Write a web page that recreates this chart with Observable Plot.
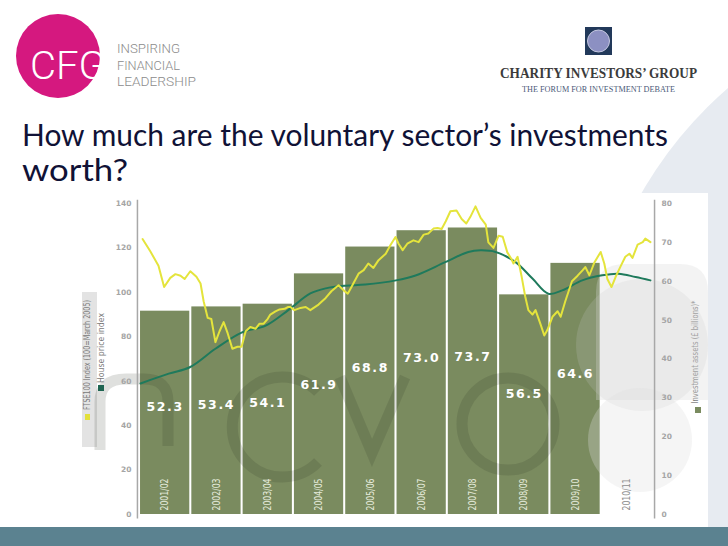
<!DOCTYPE html>
<html><head><meta charset="utf-8">
<script src="https://cdn.jsdelivr.net/npm/d3@7"></script>
<script src="https://cdn.jsdelivr.net/npm/@observablehq/plot@0.6"></script>
<style>
html,body{margin:0;padding:0;background:#fff;}
#page{position:relative;width:728px;height:546px;overflow:hidden;background:#fff;}
#bg{position:absolute;left:0;top:0;}
#chart{position:absolute;left:0;top:190px;}
.narrow{font-family:'Liberation Sans Narrow','DejaVu Sans Condensed','Roboto',sans-serif;}
</style></head><body>
<div id="page">
<svg id="bg" width="728" height="546" xmlns="http://www.w3.org/2000/svg">
  <rect width="728" height="546" fill="#fff"/>
  <circle cx="1000" cy="400" r="414" fill="#e7ebf1"/>
  <rect x="40" y="193" width="668" height="334" fill="#fff"/>
  <rect x="0" y="527" width="728" height="19" fill="#5b8290"/>
  <!-- CFG logo -->
  <circle cx="58" cy="56" r="42" fill="#d5187f"/>
  <text x="30" y="79" font-family="Roboto" font-weight="300" font-size="38" fill="#fff" textLength="76" lengthAdjust="spacingAndGlyphs">CFG</text>
  <g font-family="Roboto" font-weight="300" font-size="13.5" fill="#8c8c8c">
    <text x="117" y="53" textLength="63" lengthAdjust="spacingAndGlyphs">INSPIRING</text>
    <text x="117" y="69.5" textLength="63" lengthAdjust="spacingAndGlyphs">FINANCIAL</text>
    <text x="117" y="86" textLength="79" lengthAdjust="spacingAndGlyphs">LEADERSHIP</text>
  </g>
  <!-- Charity Investors' Group logo -->
  <rect x="585" y="27" width="27" height="28" fill="#22395a"/>
  <circle cx="598.5" cy="41" r="11" fill="#8c90c2" stroke="#c5c8e0" stroke-width="1"/>
  <text x="500" y="78" font-family="'Liberation Serif',serif" font-weight="bold" font-size="14" fill="#3b3b3b" textLength="197" lengthAdjust="spacingAndGlyphs">CHARITY INVESTORS’ GROUP</text>
  <text x="522" y="92" font-family="'Liberation Serif',serif" font-size="7.5" fill="#4b5978" textLength="153" lengthAdjust="spacingAndGlyphs">THE FORUM FOR INVESTMENT DEBATE</text>
  <!-- Title -->
  <g font-family="Lato" font-size="31" fill="#101236">
    <text x="22" y="146" textLength="646" lengthAdjust="spacingAndGlyphs">How much are the voluntary sector’s investments</text>
    <text x="22" y="181" textLength="106" lengthAdjust="spacingAndGlyphs">worth?</text>
  </g>
  <!-- Left legend -->
  <rect x="82" y="292" width="15" height="155" fill="#e3e3e3"/>
  <g class="narrow" font-size="8" fill="#7a7a7a" text-anchor="middle">
    <text transform="translate(89.5,355) rotate(-90)" textLength="110" lengthAdjust="spacingAndGlyphs">FTSE100 Index (100=March 2005)</text>
    <text transform="translate(104,348) rotate(-90)" textLength="70" lengthAdjust="spacingAndGlyphs">House price index</text>
    <text transform="translate(697.5,352) rotate(-90)" textLength="103" lengthAdjust="spacingAndGlyphs">Investment assets (£ billions)*</text>
  </g>
  <rect x="85" y="414" width="5" height="6" fill="#e3e03a"/>
  <rect x="98" y="385" width="6" height="6" fill="#1d6e5a"/>
  <rect x="695" y="407" width="6" height="6" fill="#7a8b5f"/>
</svg>
<div id="chart"></div>
</div>
<script>
// ---- Data ----
const years = ["2001/02","2002/03","2003/04","2004/05","2005/06","2006/07","2007/08","2008/09","2009/10","2010/11"];
const assets = [52.3, 53.4, 54.1, 61.9, 68.8, 73.0, 73.7, 56.5, 64.6]; // £ billions
// time in years since April 2001 (start of 2001/02)
const housePriceT = [0.02,0.57,0.99,1.48,2.0,2.46,2.9,3.33,3.63,4.02,4.4,5.0,5.38,5.96,6.41,6.65,6.94,7.33,7.66,7.97,8.24,8.63,9.02,9.34,9.67,9.96];
const housePrice = [59,63.4,66.4,74.6,82,85,92,99.5,101.8,103,103.5,105.4,107.6,113.6,118.2,118.9,118.2,113.6,106.2,99.4,100.9,105.4,107.7,108.4,106.9,105.4];
const ftseT = [0.06,0.21,0.37,0.48,0.60,0.70,0.80,0.88,0.99,1.11,
  1.19,1.25,1.33,1.40,1.48,1.56,1.64,1.72,1.81,1.91,
  1.99,2.07,2.16,2.26,2.34,2.42,2.50,2.55,2.65,2.73,
  2.83,2.89,2.94,3.02,3.14,3.24,3.33,3.49,3.63,3.74,
  3.88,3.98,4.06,4.15,4.27,4.37,4.46,4.56,4.66,4.80,
  4.89,4.99,5.05,5.13,5.22,5.34,5.44,5.54,5.63,5.73,
  5.81,5.89,5.97,6.06,6.18,6.28,6.37,6.45,6.55,6.65,
  6.75,6.80,6.90,7.00,7.08,7.17,7.25,7.29,7.37,7.45,
  7.52,7.58,7.66,7.72,7.82,7.89,7.95,8.05,8.15,8.21,
  8.30,8.43,8.54,8.64,8.69,8.77,8.87,8.99,9.06,9.12,
  9.20,9.28,9.38,9.47,9.55,9.61,9.71,9.81,9.86,9.96];
const ftse = [124,118.5,112,102.4,106.5,108.2,107.5,106,109.5,107,
  104,96,88.5,88,77.6,82.5,86.6,81.5,74.6,75.5,
  75.5,82.5,84.4,83.6,85.9,85.9,88.1,90,91.4,92.3,
  92.6,93.4,93.4,92,93,93.4,92,94.5,97.5,100.5,
  103.2,100.9,99.4,103.2,108.4,110,113,111,114.5,117.4,
  121.2,124.9,121.9,119,121.9,123.4,122.6,126,126.5,128.7,
  129,128.5,132,136.5,136.9,133,131,134,138.7,133.5,
  130.5,122.5,120,125.5,125,118,115,113,116,107,
  98,92,90,92,85.5,80.6,83,89,91.5,89,
  96,105,107.5,110,111.4,107.7,113.6,118.2,113,106,
  102.4,106.9,111.8,116,117.4,115.5,121.5,122.6,124.2,122.6];
const leftTicks = [0,20,40,60,80,100,120,140];
const rightTicks = [0,10,20,30,40,50,60,70,80];

// ---- Layout (label centres, in left-axis units) ----
const labelLevel = [48.2, 49.1, 50, 58.1, 65.8, 70.3, 70.7, 54.1, 63.1];

const K = 140 / 80; // right axis (0–80) onto left axis (0–140)
const bars = assets.map((v, i) => ({i, v}));
const house = housePriceT.map((t, i) => ({t, v: housePrice[i]}));
const ft = ftseT.map((t, i) => ({t, v: ftse[i]}));
const yearRows = years.map((y, i) => ({i, y}));

function watermark() {
  const g = d3.create("svg:g").attr("transform", "translate(0,-190)");
  // light grey blobs (lower right)
  g.append("path").attr("d", "M596 400 V292 Q596 264 625 264 H680 Q708 264 708 292 V400 Z")
    .attr("fill", "#d8d8d8").attr("opacity", 0.3);
  g.append("circle").attr("cx", 642).attr("cy", 345).attr("r", 66).attr("fill", "#c8c8c8").attr("opacity", 0.2);
  g.append("circle").attr("cx", 640).attr("cy", 440).attr("r", 52).attr("fill", "#dedede").attr("opacity", 0.3);
  const ink = "rgba(40,45,35,0.15)";
  const s = g.append("g").attr("fill", "none").attr("stroke", ink).attr("stroke-width", 11).attr("stroke-linecap", "butt");
  s.append("path").attr("d", "M100 450 V402 Q100 379 126 379 H144 Q168 379 168 402 V446");
  s.append("path").attr("d", "M318 392 A50 50 0 1 0 318 462");
  s.append("path").attr("d", "M340 377 L372 453 L405 377");
  s.append("circle").attr("cx", 508).attr("cy", 424).attr("r", 46);
  return g.node();
}

const narrow = "'Liberation Sans Narrow','DejaVu Sans Condensed',sans-serif";
const plot = Plot.plot({
  width: 728, height: 340,
  marginLeft: 139, marginRight: 76, marginTop: 13, marginBottom: 16,
  x: {domain: [0, 10], axis: null},
  y: {domain: [0, 140], axis: null},
  style: {background: "transparent", overflow: "visible"},
  marks: [
    Plot.rect(bars, {x1: d => d.i + 0.02, x2: d => d.i + 0.98, y1: 0, y2: d => d.v * K, fill: "#7a8b5f"}),
    watermark,
    Plot.line(house, {x: "t", y: "v", stroke: "#1f7a5c", strokeWidth: 2, curve: "catmull-rom"}),
    Plot.line(ft, {x: "t", y: "v", stroke: "#e4e43c", strokeWidth: 2}),
    Plot.ruleX([-0.04, 10.04], {y1: -2, y2: 141.5, stroke: "#a8a8a8", strokeWidth: 1.5}),
    Plot.text(leftTicks, {x: -0.04, y: d => d, dx: -6, textAnchor: "end", text: d => String(d),
      fill: "#a5a5a5", fontSize: 7.5, fontWeight: "bold", fontFamily: "DejaVu Sans"}),
    Plot.text(rightTicks, {x: 10.04, y: d => d * K, dx: 7, textAnchor: "start", text: d => String(d),
      fill: "#a5a5a5", fontSize: 7.5, fontWeight: "bold", fontFamily: "DejaVu Sans"}),
    Plot.text(bars, {x: d => d.i + 0.5, y: d => labelLevel[d.i], text: d => d.v.toFixed(1),
      fill: "#ffffff", fontSize: 12.5, fontWeight: "bold", fontFamily: "DejaVu Sans"}),
    Plot.text(yearRows.filter(d => d.i < assets.length), {x: d => d.i + 0.5, y: 9, text: "y", rotate: -90,
      fill: "#e4eada", fontSize: 10, fontFamily: narrow}),
    Plot.text(yearRows.filter(d => d.i >= assets.length), {x: d => d.i + 0.5, y: 9, text: "y", rotate: -90,
      fill: "#8f8f8f", fontSize: 10, fontFamily: narrow})
  ]
});
document.getElementById("chart").appendChild(plot);
const sel = d3.select(plot);
sel.selectAll("text").filter(function () { return /^\d+\.\d$/.test(this.textContent); })
  .attr("letter-spacing", "1.6");
sel.selectAll("text").filter(function () { return /^\d{4}\/\d{2}$/.test(this.textContent); })
  .attr("textLength", 32).attr("lengthAdjust", "spacingAndGlyphs");
</script>
</body></html>
